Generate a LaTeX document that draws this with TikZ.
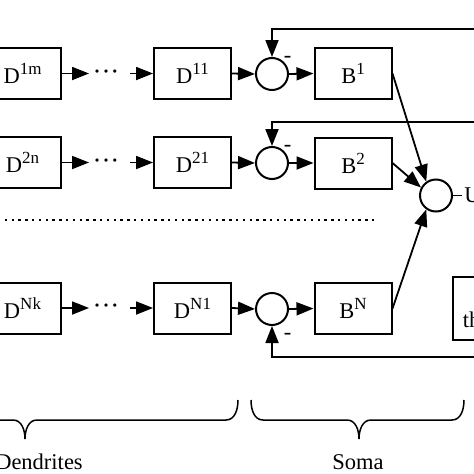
\documentclass[tikz,border=0pt]{standalone}
\usepackage{fontspec}
\setmainfont{Liberation Serif}
\usetikzlibrary{arrows.meta}
\newcommand{\sups}[1]{\raisebox{9pt}{\fontsize{17}{17}\selectfont #1}}
\begin{document}
\begin{tikzpicture}[x=1pt,y=-1pt,
  font=\fontsize{22.5}{26}\selectfont,
  line width=1.8pt,
  blk/.style={draw, line width=2pt, minimum width=77pt, minimum height=51pt, inner sep=0pt},
  sumc/.style={draw, circle, line width=2pt, minimum size=32pt, inner sep=0pt},
  arr/.style={-{Triangle[length=17pt,width=13pt]}},
  lbl/.style={inner sep=0pt},
  dts/.style={inner sep=0pt, font=\fontsize{27}{27}\selectfont},
  sgn/.style={inner sep=0pt, anchor=base}
]
\useasboundingbox (0,0) rectangle (474,474);
\clip (0,0) rectangle (474,474);

% row 1
\node[blk] (D1m) at (22.5,73.5) {D\sups{1m}};
\node[blk] (D11) at (192.5,73.5) {D\sups{11}};
\node[sumc] (c1) at (272,74) {};
\node[blk] (B1) at (353,73.5) {B\sups{1}};
\coordinate (a1) at (89,73.5);
\coordinate (b1) at (130,73.5);
\node[dts] (dots1) at (106,75) {···};
\draw[arr] (D1m.east) -- (a1);
\draw[arr] (b1) -- (D11.west);
\draw[arr] (D11.east) -- (c1.west);
\draw[arr] (c1.east) -- (B1.west);
\coordinate (f1) at (490,29);
\draw[arr] (f1) -| (c1.north);
\node[sgn] (m1) at (287.5,62) {-};

% row 2
\node[blk] (D2n) at (22.5,162.5) {D\sups{2n}};
\node[blk] (D21) at (192.5,162.5) {D\sups{21}};
\node[sumc] (c2) at (272,163) {};
\node[blk] (B2) at (353,163) {B\sups{2}};
\coordinate (a2) at (89,162.5);
\coordinate (b2) at (130,162.5);
\node[dts] (dots2) at (106,164) {···};
\draw[arr] (D2n.east) -- (a2);
\draw[arr] (b2) -- (D21.west);
\draw[arr] (D21.east) -- (c2.west);
\draw[arr] (c2.east) -- (B2.west);
\coordinate (f2) at (490,122);
\draw[arr] (f2) -| (c2.north);
\node[sgn] (m2) at (287.5,151) {-};

% separator
\coordinate (s1) at (-2,220);
\coordinate (s2) at (378,220);
\draw[line width=2.4pt, dash pattern=on 2.4pt off 4.4pt] (s1) -- (s2);

% row N
\node[blk] (DNk) at (22.5,308) {D\sups{Nk}};
\node[blk] (DN1) at (192.5,308) {D\sups{N1}};
\node[sumc] (cN) at (272,309) {};
\node[blk] (BN) at (353,308.5) {B\sups{N}};
\coordinate (aN) at (89,308);
\coordinate (bN) at (130,308);
\node[dts] (dotsN) at (106,309.5) {···};
\draw[arr] (DNk.east) -- (aN);
\draw[arr] (bN) -- (DN1.west);
\draw[arr] (DN1.east) -- (cN.west);
\draw[arr] (cN.east) -- (BN.west);
\coordinate (fN) at (490,357);
\draw[arr] (fN) -| (cN.south);
\node[sgn] (mN) at (287.5,339) {-};

% output summation
\node[sumc] (out) at (436,195.5) {};
\draw[arr] (B1.east) -- (out.125);
\draw[arr] (B2.east) -- (out.152);
\draw[arr] (BN.east) -- (out.235);
\coordinate (u0) at (462,195.5);
\draw (out.east) -- (u0);
\node[lbl, anchor=west] (U) at (463.5,195.5) {U};

% threshold box
\node[draw, line width=2pt, anchor=north west, minimum width=60pt, minimum height=63pt] (thr) at (452,276) {};
\node[lbl, anchor=base west] (tht) at (462,327) {th};

% braces
\draw[line width=1.5pt] (-190,400) to[out=90,in=0] (-178,420) -- (13,420) to[out=0,in=90] (25,439)
      (25,439) to[out=90,in=180] (37,420) -- (226,420) to[out=0,in=-90] (238,400);
\node[lbl, anchor=base] (dend) at (39,469) {Dendrites};
\draw[line width=1.5pt] (251,400) to[out=-90,in=180] (263,420) -- (347,420) to[out=0,in=90] (359,439)
      (359,439) to[out=90,in=180] (371,420) -- (452,420) to[out=0,in=-90] (464,400);
\node[lbl, anchor=base] (soma) at (358,469) {Soma};
\end{tikzpicture}
\end{document}
